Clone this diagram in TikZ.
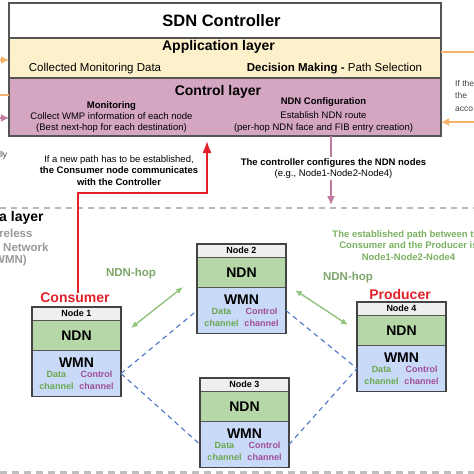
\documentclass[tikz,border=0pt]{standalone}
\usepackage{fontspec}
\setmainfont{Liberation Sans}
\usepackage{tikz}
\usetikzlibrary{arrows.meta}
\usetikzlibrary{positioning}
\usetikzlibrary{calc}

\definecolor{appfill}{HTML}{FDF1CC}
\definecolor{ctlfill}{HTML}{D5A6C2}
\definecolor{framegray}{HTML}{555555}
\definecolor{ndngreen}{HTML}{B6D7A8}
\definecolor{wmnblue}{HTML}{C9DAF8}
\definecolor{hdrgray}{HTML}{EFEFEF}
\definecolor{datagreen}{HTML}{6AA84F}
\definecolor{ctrlpurple}{HTML}{9E4F99}
\definecolor{reqred}{HTML}{E3202A}
\definecolor{orangeln}{HTML}{F6B26B}
\definecolor{mauveln}{HTML}{C27BA0}
\definecolor{meshblue}{HTML}{4A75C4}
\definecolor{hopgreen}{HTML}{93C47D}
\definecolor{layergray}{HTML}{999999}
\definecolor{notegray}{HTML}{444444}

\tikzset{
  layerbox/.style={draw=framegray, line width=1.2pt, minimum width=432pt, inner sep=0pt, outer sep=0pt},
  titletext/.style={inner sep=0pt, font=\fontsize{14}{16}\selectfont\bfseries},
  bodytext/.style={inner sep=0pt, align=center, font=\fontsize{9.5}{11}\selectfont},
  hdrbox/.style={draw=framegray, line width=1pt, fill=hdrgray, minimum width=89pt, minimum height=13.5pt,
    inner sep=0pt, outer sep=0pt, font=\fontsize{9}{10}\selectfont\bfseries},
  ndnbox/.style={draw=framegray, line width=1pt, fill=ndngreen, minimum width=89pt, minimum height=30pt,
    inner sep=0pt, outer sep=0pt, font=\fontsize{14}{16}\selectfont\bfseries},
  wmnbox/.style={draw=framegray, line width=1pt, fill=wmnblue, minimum width=89pt, minimum height=46pt,
    inner sep=0pt, outer sep=0pt},
  wmntitle/.style={inner sep=0pt, font=\fontsize{14}{16}\selectfont\bfseries},
  chantext/.style={inner sep=0pt, align=center, font=\fontsize{9}{11.5}\selectfont\bfseries},
  nodeframe/.style={draw=framegray!80!black, line width=1.6pt},
  rolelabel/.style={inner sep=0pt, text=reqred, font=\fontsize{14}{16}\selectfont\bfseries},
  meshlink/.style={meshblue, line width=1.1pt, dash pattern=on 5pt off 4pt},
  hoparrow/.style={hopgreen, line width=1.4pt, {Latex[length=7pt,width=6pt]}-{Latex[length=7pt,width=6pt]}},
  reqarrow/.style={reqred, line width=1.8pt, -{Latex[length=12pt,width=9pt]}},
  cfgarrow/.style={mauveln, line width=1.4pt, -{Latex[length=9pt,width=8pt]}},
  orangearrow/.style={orangeln, line width=1.5pt, -{Latex[length=8pt,width=8pt]}},
  orangeline/.style={orangeln, line width=1.5pt},
  mauvearrow/.style={mauveln, line width=1.5pt, -{Latex[length=8pt,width=8pt]}},
  sideline/.style={inner sep=0pt, anchor=west, text=layergray, font=\fontsize{11.5}{13}\selectfont\bfseries},
  edgenote/.style={inner sep=0pt, anchor=west, text=notegray, font=\fontsize{8.5}{10}\selectfont},
}

% one mesh node: name, x, top y, header label
\newcommand{\meshnode}[4]{%
  \node[hdrbox, anchor=north] (#1h) at (#2,#3) {#4};
  \node[ndnbox, below=0pt of #1h] (#1n) {NDN};
  \node[wmnbox, below=0pt of #1n] (#1w) {};
  \node[wmntitle] (#1t) at ($(#1w.north)+(0,12)$) {WMN};
  \node[chantext, text=datagreen] (#1d) at ($(#1w.north)+(-20,30)$) {Data\\channel};
  \node[chantext, text=ctrlpurple] (#1c) at ($(#1w.north)+(20,30)$) {Control\\channel};
  \draw[nodeframe] (#1h.north west) rectangle (#1w.south east);
}

\begin{document}
\begin{tikzpicture}[x=1pt,y=-1pt]
		\useasboundingbox (0,0) rectangle (474,474);
		\clip (0,0) rectangle (474,474);
		
		% SDN controller
		\node[layerbox, fill=white, minimum height=35pt] (sdn) at (225,20.5) {};
		\node[layerbox, fill=appfill, minimum height=40pt] (app) at (225,58) {};
		\node[layerbox, fill=ctlfill, minimum height=58pt] (ctl) at (225,107) {};
		\draw[draw=framegray, line width=1.8pt] (sdn.north west) rectangle (ctl.south east);
		
		\node[inner sep=0pt, font=\fontsize{16.5}{18}\selectfont\bfseries] (sdntitle) at (221.5,21) {SDN Controller};
		\node[titletext] (apptitle) at (218.5,47) {Application layer};
		\node[inner sep=0pt, font=\fontsize{11.5}{13}\selectfont] (collected) at (95,69) {Collected Monitoring Data};
		\node[inner sep=0pt, font=\fontsize{11.5}{13}\selectfont] (decision) at (334.5,69) {\textbf{Decision Making -} Path Selection};
		\node[titletext] (ctltitle) at (218,92) {Control layer};
		\node[bodytext] (monitor) at (111.5,117) {\textbf{Monitoring}\\Collect WMP information of each node\\(Best next-hop for each destination)};
		\node[bodytext, font=\fontsize{9.5}{11}\selectfont\bfseries] (ndncfg) at (323.5,102) {NDN Configuration};
		\node[bodytext, font=\fontsize{9.5}{12}\selectfont] (ndncfgbody) at (323.5,122) {Establish NDN route\\(per-hop NDN face and FIB entry creation)};
		
		% arrows at the edges of the controller
		\coordinate (appin) at (-6,60);
		\coordinate (ctlin) at (-6,95);
		\coordinate (monin) at (-6,118);
		\coordinate (appout) at (480,52);
		\coordinate (ctlback) at (480,122);
		\draw[orangearrow] (appin) -- (appin -| app.west);
		\draw[orangeline] (ctlin) -- (ctlin -| ctl.west);
		\draw[mauvearrow] (monin) -- (monin -| ctl.west);
		\draw[orangeline] (app.east |- appout) -- (appout);
		\draw[orangearrow] (ctlback) -- (ctlback -| ctl.east);
		\node[edgenote] (leftnote) at (-1,155) {lly};
		\node[edgenote, align=left, font=\fontsize{8.5}{12.5}\selectfont] (rightnote) at (455,95.5) {If the\\the\\acco};
		
		% data layer
		\draw[layergray!70, line width=1.1pt, dash pattern=on 6pt off 5pt] (0,208) -- (474,208);
		\draw[black!25, line width=3pt, dash pattern=on 7pt off 5pt] (0,472.5) -- (474,472.5);
		\node[inner sep=0pt, anchor=west, font=\fontsize{14}{16}\selectfont\bfseries] (datatitle) at (-1,218) {a layer};
		\node[sideline] (wl1) at (-1,233) {reless};
		\node[sideline] (wl2) at (3,247) {Network};
		\node[sideline] (wl3) at (-6,261) {WMN)};
		
		\meshnode{n1}{76.5}{307}{Node 1}
		\meshnode{n2}{241.5}{244}{Node 2}
		\meshnode{n3}{244.5}{378}{Node 3}
		\meshnode{n4}{401.5}{302}{Node 4}
		
		\node[rolelabel] (consumer) at (75,298) {Consumer};
		\node[rolelabel] (producer) at (400,294) {Producer};
		
		\draw[meshlink] (n1w.east) -- (n2w.west);
		\draw[meshlink] (n1w.east) -- (n3w.west);
		\draw[meshlink] (n2w.east) -- (n4w.west);
		\draw[meshlink] (n3w.east) -- (n4w.west);
		
		\coordinate (hop1a) at (131,328);
		\coordinate (hop1b) at (183,287);
		\coordinate (hop2a) at (295,290);
		\coordinate (hop2b) at (348,325);
		\draw[hoparrow] (hop1a) -- (hop1b);
		\draw[hoparrow] (hop2a) -- (hop2b);
		\node[inner sep=0pt, text=hopgreen!85!black, font=\fontsize{11.5}{13}\selectfont\bfseries] (hop1) at (131,274) {NDN-hop};
		\node[inner sep=0pt, text=hopgreen!85!black, font=\fontsize{11.5}{13}\selectfont\bfseries] (hop2) at (348,278) {NDN-hop};
		\node[bodytext, text=datagreen!90, font=\fontsize{9.5}{11.5}\selectfont\bfseries] (pathnote) at (408.5,245.5)
			{The established path between the\\Consumer and the Producer is\\Node1-Node2-Node4};
		
		% consumer asks the controller
		\coordinate (reqturn) at (207,193);
		\coordinate (reqend) at (207,141);
		\draw[reqarrow] ([xshift=3pt]consumer.north) |- (reqturn) -- (reqend);
		\node[bodytext, font=\fontsize{9.5}{11.5}\selectfont] (reqnote) at (119,170.5)
			{If a new path has to be established,\\\textbf{the Consumer node communicates}\\\textbf{with the Controller}};
		
		% controller configures the nodes
		\coordinate (cfgend) at (331,205);
		\draw[cfgarrow] (cfgend |- ctl.south) -- (cfgend);
		\node[bodytext, fill=white, inner sep=2pt, font=\fontsize{9.5}{10.5}\selectfont] (cfgnote) at (333.5,168.3)
			{\textbf{The controller configures the NDN nodes}\\(e.g., Node1-Node2-Node4)};
		\end{tikzpicture}
\end{document}
